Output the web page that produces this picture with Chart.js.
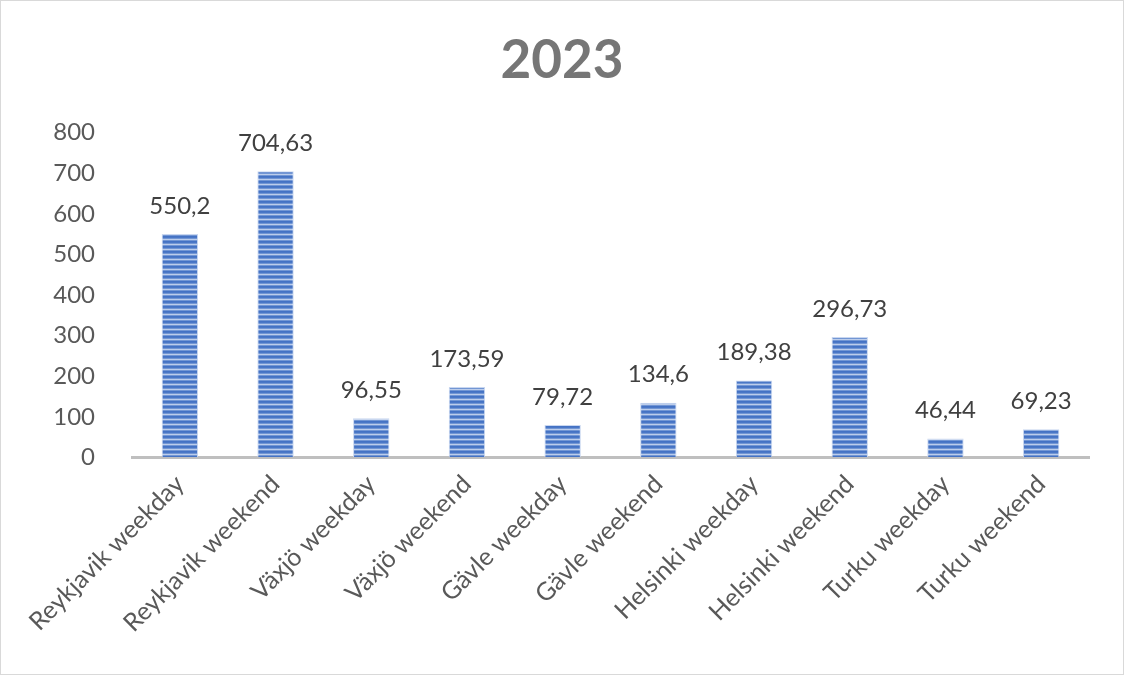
<!DOCTYPE html>
<html>
<head>
<meta charset="utf-8">
<script src="https://cdn.jsdelivr.net/npm/chart.js@4"></script>
<style>
  body { margin: 0; background: #fff; }
  #wrap { width: 1124px; height: 675px; box-sizing: border-box; border: 1px solid #d9d9d9; position: relative; }
</style>
</head>
<body>
<div id="wrap"><canvas id="chart" width="1122" height="673"></canvas></div>
<script>
const categories = ['Reykjavik weekday', 'Reykjavik weekend', 'Växjö weekday', 'Växjö weekend', 'Gävle weekday',
  'Gävle weekend', 'Helsinki weekday', 'Helsinki weekend', 'Turku weekday', 'Turku weekend'];
const values = [550.2, 704.63, 96.55, 173.59, 79.72, 134.6, 189.38, 296.73, 46.44, 69.23];
const yTicks = [0, 100, 200, 300, 400, 500, 600, 700, 800];

const FONT = 'Lato, "Liberation Sans", Arial, sans-serif';

// horizontal stripes like the excel fill
const makeStripes = () => {
  const c = document.createElement('canvas');
  c.width = 4; c.height = 5;
  const g = c.getContext('2d');
  const rows = ['#4472c4', '#4a77c6', '#7296d4', '#bccdeb', '#7296d4'];
  rows.forEach((col, i) => { g.fillStyle = col; g.fillRect(0, i, 4, 1); });
  return g.createPattern(c, 'repeat');
};

const barLabels = {
  id: 'barLabels',
  afterDatasetsDraw(chart) {
    const ctx = chart.ctx;
    const meta = chart.getDatasetMeta(0);
    ctx.save();
    ctx.font = '24px ' + FONT;
    ctx.fillStyle = '#404040';
    ctx.textAlign = 'center';
    ctx.textBaseline = 'middle';
    meta.data.forEach((bar, i) => {
      ctx.fillText(String(values[i]).replace('.', ','), bar.x, bar.y - 28);
    });
    ctx.restore();
  }
};

const ctx = document.getElementById('chart').getContext('2d');
new Chart(ctx, {
  type: 'bar',
  data: {
    labels: categories,
    datasets: [{
      data: values,
      backgroundColor: makeStripes(),
      borderColor: '#c9d7f0',
      borderWidth: 1,
      categoryPercentage: 1,
      barPercentage: 0.38,
    }],
  },
  options: {
    responsive: false,
    animation: false,
    layout: { padding: { left: 0, right: 0, bottom: 32, top: 0 } },
    plugins: {
      legend: { display: false },
      tooltip: { enabled: false },
      title: {
        display: true,
        text: '2023',
        color: '#767676',
        font: { family: FONT, size: 53, weight: 'bold' },
        padding: { top: 28, bottom: 40 },
      },
    },
    scales: {
      x: {
        grid: { display: false },
        border: { display: true, color: '#bfbfbf', width: 3 },
        ticks: {
          color: '#595959',
          font: { family: FONT, size: 25 },
          minRotation: 45,
          maxRotation: 45,
          autoSkip: false,
          padding: 4,
        },
        afterFit: axis => { axis.paddingLeft = 0; axis.paddingRight = 34; },
      },
      y: {
        min: 0,
        max: 800,
        afterBuildTicks: axis => { axis.ticks = yTicks.map(v => ({ value: v })); },
        afterFit: axis => { axis.width = 131; },
        grid: { display: false },
        border: { display: false },
        ticks: {
          color: '#595959',
          font: { family: FONT, size: 24 },
          padding: 29,
        },
      },
    },
  },
  plugins: [barLabels],
});
</script>
</body>
</html>
